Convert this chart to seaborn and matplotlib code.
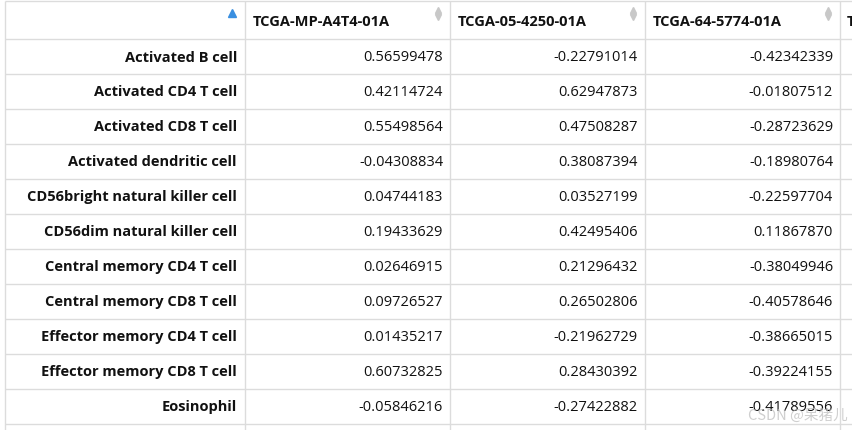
import numpy as np
import seaborn as sns
import matplotlib.pyplot as plt

# Table contents
cells = [
    "Activated B cell",
    "Activated CD4 T cell",
    "Activated CD8 T cell",
    "Activated dendritic cell",
    "CD56bright natural killer cell",
    "CD56dim natural killer cell",
    "Central memory CD4 T cell",
    "Central memory CD8 T cell",
    "Effector memory CD4 T cell",
    "Effector memory CD8 T cell",
    "Eosinophil",
]
samples = ["TCGA-MP-A4T4-01A", "TCGA-05-4250-01A", "TCGA-64-5774-01A"]
s1 = [0.56599478, 0.42114724, 0.55498564, -0.04308834, 0.04744183, 0.19433629,
      0.02646915, 0.09726527, 0.01435217, 0.60732825, -0.05846216]
s2 = [-0.22791014, 0.62947873, 0.47508287, 0.38087394, 0.03527199, 0.42495406,
      0.21296432, 0.26502806, -0.21962729, 0.28430392, -0.27422882]
s3 = [-0.42342339, -0.01807512, -0.28723629, -0.18980764, -0.22597704, 0.11867870,
      -0.38049946, -0.40578646, -0.38665015, -0.39224155, -0.41789556]
values = [s1, s2, s3]

sns.set_style("white")
plt.rcParams["font.family"] = ["Open Sans", "DejaVu Sans", "Noto Sans CJK SC"]

fig = plt.figure(figsize=(8.52, 4.31), dpi=100)
ax = fig.add_axes([0, 0, 1, 1])
ax.set_xlim(0, 852)
ax.set_ylim(431, 0)
ax.axis("off")

col_edges = [5, 245, 450, 645, 840]
header_h = 40
row_h = 35
line_c = "#dcdcdc"

# grid
ax.hlines(2, 5, 852, color=line_c, lw=1)
for k in range(len(cells) + 1):
    ax.hlines(header_h + k * row_h, 5, 852, color=line_c, lw=1)
for x in col_edges:
    ax.vlines(x, 2, 431, color=line_c, lw=1)

txt = "#111111"
# header
ax.plot(232, 14, marker="^", color="#3a8fe0", ms=6)
for j, name in enumerate(samples):
    ax.text(col_edges[j + 1] + 8, 22, name, ha="left", va="center",
            fontsize=10.5, fontweight="bold", color=txt)
    xa = col_edges[j + 2] - 12
    ax.plot(xa, 11, marker="^", color="#c8c8c8", ms=4)
    ax.plot(xa, 18, marker="v", color="#c8c8c8", ms=4)
ax.text(847, 22, "T", ha="left", va="center", fontsize=10.5,
        fontweight="bold", color=txt, clip_on=True)

# body
for i, name in enumerate(cells):
    y = header_h + i * row_h + row_h / 2
    ax.text(237, y, name, ha="right", va="center", fontsize=10.5,
            fontweight="bold", color=txt)
    for j in range(len(samples)):
        ax.text(col_edges[j + 2] - 7, y, f"{values[j][i]:.8f}", ha="right",
                va="center", fontsize=10.5, color=txt)

ax.text(848, 416, "CSDN @呆猪儿", ha="right", va="center", fontsize=10.5,
        color="#bbbbbb", alpha=0.7,
        family=["Noto Sans CJK SC", "DejaVu Sans"])

fig.savefig("out.png", dpi=100)
